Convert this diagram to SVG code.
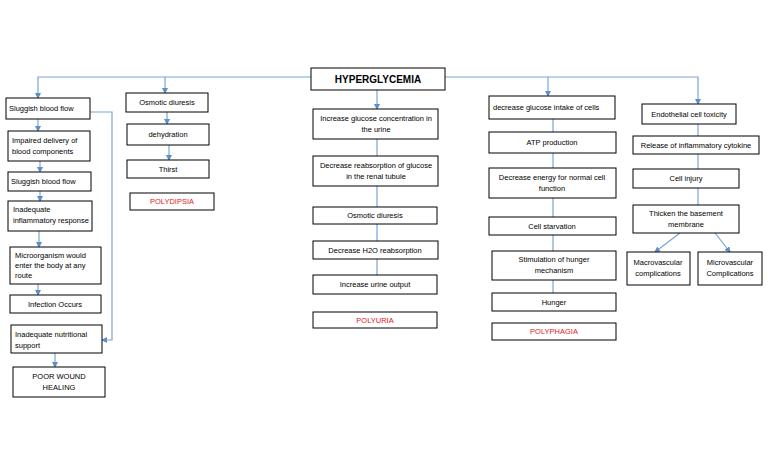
<svg xmlns="http://www.w3.org/2000/svg" width="768" height="466" viewBox="0 0 768 466">
<defs>
<marker id="a" markerWidth="6" markerHeight="6" refX="5" refY="3" orient="auto" markerUnits="userSpaceOnUse"><path d="M0,0 L6,3 L0,6 z" fill="#5b8fc7"/></marker>
<style>
rect{fill:#fff;stroke:#000;stroke-width:1}
text{font-family:"Liberation Sans",Arial,sans-serif;font-size:7.5px;fill:#000}
.c{text-anchor:middle}
.r{fill:#e8141b}
.h{font-size:10px;font-weight:bold}
#conn path{fill:none;stroke:#7aa6d6;stroke-width:1.2}
.m{marker-end:url(#a)}
</style>
</defs>
<rect x="0" y="0" width="768" height="466" style="stroke:none"/>
<g id="conn">
<path d="M311,77 H38 V98" class="m"/>
<path d="M165,77 V93" class="m"/>
<path d="M445,77 H698 V104" class="m"/>
<path d="M548,77 V96" class="m"/>
<path d="M377,90 V109" class="m"/>
<path d="M377,139 V156 M377,186 V207 M377,224 V241 M377,259 V275"/>
<path d="M553,119 V132 M553,153 V168 M553,198 V217 M553,235 V251 M553,280 V293"/>
<path d="M698,124 V136 M698,154 V169 M698,188 V205"/>
<path d="M680,233 L655,252" class="m"/>
<path d="M715,233 L730,252" class="m"/>
<path d="M38,119 V131" class="m"/>
<path d="M40,161 V172" class="m"/>
<path d="M40,191 V201" class="m"/>
<path d="M39,231 V247" class="m"/>
<path d="M38,284 V295" class="m"/>
<path d="M90,112 H112 V340 H102" class="m"/>
<path d="M55,353 V367" class="m"/>
<path d="M167,112 V124" class="m"/>
<path d="M169,145 V160" class="m"/>
</g>
<g id="hyper"><rect x="311" y="68" width="134" height="22"/><text class="c h" x="378" y="83">HYPERGLYCEMIA</text></g>
<g id="l1"><rect x="6" y="98" width="84" height="21"/><text x="9" y="111">Sluggish blood flow</text></g>
<g id="l2"><rect x="8" y="131" width="82" height="30"/><text x="12" y="143">Impaired delivery of</text><text x="12" y="154">blood components</text></g>
<g id="l3"><rect x="8" y="172" width="83" height="19"/><text x="11" y="184">Sluggish blood flow</text></g>
<g id="l4"><rect x="8" y="201" width="84" height="30"/><text x="13" y="212">Inadequate</text><text x="13" y="223">inflammatory response</text></g>
<g id="l5"><rect x="10" y="247" width="91" height="37"/><text x="15" y="258">Microorganism would</text><text x="15" y="268">enter the body at any</text><text x="15" y="278">route</text></g>
<g id="l6"><rect x="10" y="295" width="91" height="18"/><text class="c" x="55" y="307">Infection Occurs</text></g>
<g id="l7"><rect x="11" y="325" width="91" height="28"/><text x="15" y="337">Inadequate nutritional</text><text x="15" y="348">support</text></g>
<g id="l8"><rect x="13" y="367" width="92" height="30"/><text class="c" x="59" y="379">POOR WOUND</text><text class="c" x="59" y="390">HEALING</text></g>
<g id="d1"><rect x="126" y="93" width="82" height="19"/><text class="c" x="167" y="105">Osmotic diuresis</text></g>
<g id="d2"><rect x="127" y="124" width="82" height="21"/><text class="c" x="168" y="137">dehydration</text></g>
<g id="d3"><rect x="127" y="160" width="82" height="18"/><text class="c" x="168" y="172">Thirst</text></g>
<g id="d4"><rect x="130" y="193" width="84" height="17"/><text class="c r" x="172" y="204">POLYDIPSIA</text></g>
<g id="u1"><rect x="313" y="109" width="125" height="30"/><text class="c" x="376" y="121">Increase glucose concentration in</text><text class="c" x="376" y="132">the urine</text></g>
<g id="u2"><rect x="313" y="156" width="125" height="30"/><text class="c" x="376" y="168">Decrease reabsorption of glucose</text><text class="c" x="376" y="179">in the renal tubule</text></g>
<g id="u3"><rect x="313" y="207" width="124" height="17"/><text class="c" x="375" y="218">Osmotic diuresis</text></g>
<g id="u4"><rect x="313" y="241" width="125" height="18"/><text class="c" x="375" y="253">Decrease H2O reabsorption</text></g>
<g id="u5"><rect x="313" y="275" width="124" height="19"/><text class="c" x="375" y="287">Increase urine output</text></g>
<g id="u6"><rect x="313" y="312" width="124" height="16"/><text class="c r" x="375" y="323">POLYURIA</text></g>
<g id="p1"><rect x="489" y="96" width="126" height="23"/><text x="493" y="110">decrease glucose intake of cells</text></g>
<g id="p2"><rect x="489" y="132" width="127" height="21"/><text class="c" x="552" y="145">ATP production</text></g>
<g id="p3"><rect x="489" y="168" width="127" height="30"/><text class="c" x="552" y="180">Decrease energy for normal cell</text><text class="c" x="552" y="191">function</text></g>
<g id="p4"><rect x="489" y="217" width="127" height="18"/><text class="c" x="552" y="229">Cell starvation</text></g>
<g id="p5"><rect x="492" y="251" width="124" height="29"/><text class="c" x="554" y="262">Stimulation of hunger</text><text class="c" x="554" y="273">mechanism</text></g>
<g id="p6"><rect x="492" y="293" width="124" height="18"/><text class="c" x="554" y="305">Hunger</text></g>
<g id="p7"><rect x="492" y="323" width="124" height="17"/><text class="c r" x="554" y="334">POLYPHAGIA</text></g>
<g id="e1"><rect x="642" y="104" width="94" height="20"/><text class="c" x="689" y="117">Endothelial cell toxicity</text></g>
<g id="e2"><rect x="633" y="136" width="126" height="18"/><text class="c" x="696" y="148">Release of inflammatory cytokine</text></g>
<g id="e3"><rect x="633" y="169" width="106" height="19"/><text class="c" x="686" y="181">Cell injury</text></g>
<g id="e4"><rect x="633" y="205" width="106" height="28"/><text class="c" x="686" y="216">Thicken the basement</text><text class="c" x="686" y="227">membrane</text></g>
<g id="e5"><rect x="627" y="252" width="63" height="33"/><text class="c" x="658" y="265">Macrovascular</text><text class="c" x="658" y="276">complications</text></g>
<g id="e6"><rect x="698" y="252" width="64" height="33"/><text class="c" x="730" y="265">Microvascular</text><text class="c" x="730" y="276">Complications</text></g>
</svg>
